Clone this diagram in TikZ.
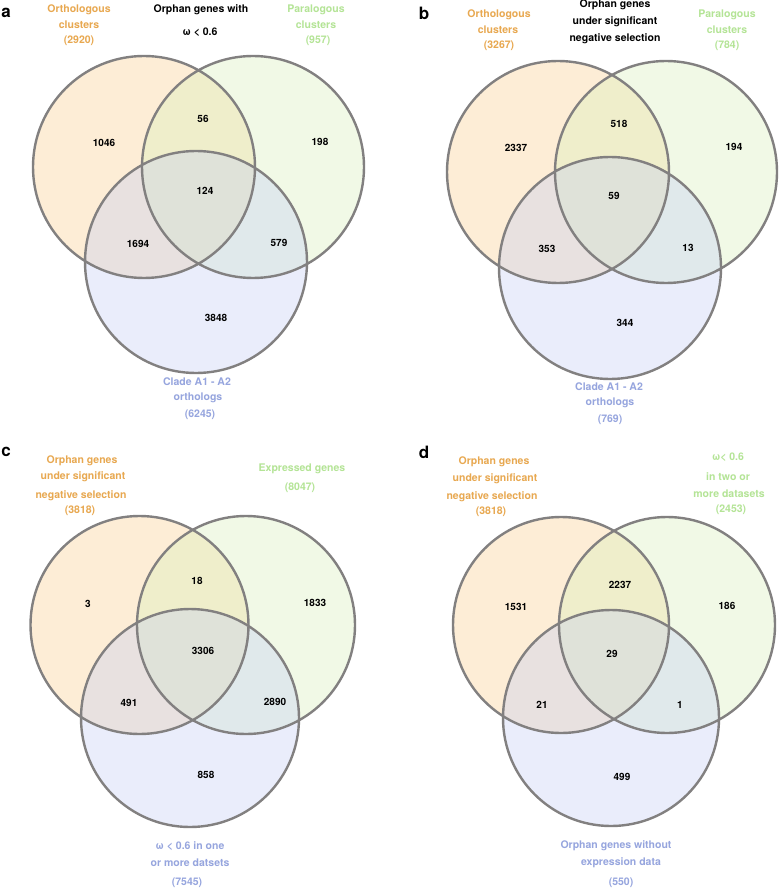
\documentclass[tikz,border=0pt]{standalone}
\usepackage{fontspec}
\setmainfont{TeX Gyre Heros}
\definecolor{orl}{RGB}{232,168,80}
\definecolor{grl}{RGB}{180,228,150}
\definecolor{bll}{RGB}{150,165,222}
\definecolor{orf}{RGB}{252,205,140}
\definecolor{grf}{RGB}{215,240,185}
\definecolor{blf}{RGB}{195,205,245}
\definecolor{edge}{RGB}{130,128,128}
\newcommand{\vennthree}[7]{%
  \fill[orf,fill opacity=0.35] (#1,#2) circle (#7);
  \fill[grf,fill opacity=0.35] (#3,#4) circle (#7);
  \fill[blf,fill opacity=0.35] (#5,#6) circle (#7);
  \draw[edge,line width=2.4pt] (#1,#2) circle (#7) (#3,#4) circle (#7) (#5,#6) circle (#7);}
\tikzset{
  num/.style={font=\bfseries\fontsize{10}{12}\selectfont,text=black,inner sep=0pt},
  lab/.style={font=\bfseries\fontsize{10.5}{12}\selectfont,inner sep=0pt},
  pan/.style={font=\bfseries\fontsize{17}{18}\selectfont,inner sep=0pt}}
\begin{document}
\begin{tikzpicture}[x=1pt,y=-1pt]
\useasboundingbox (0,0) rectangle (778,890);
\fill[white] (0,0) rectangle (778,890);
% panel a
\vennthree{144}{167}{253}{167}{196}{262}{111}
\node[pan] (pa) at (6,13) {a};
\node[lab,text=orl] (a1) at (79,10) {Orthologous};
\node[lab,text=orl] (a2) at (79,25) {clusters};
\node[lab,text=orl] (a3) at (79,41) {(2920)};
\node[lab] (a4) at (201,10) {Orphan genes with};
\node[lab] (a5) at (200,32) {ω < 0.6};
\node[lab,text=grl] (a6) at (316,10) {Paralogous};
\node[lab,text=grl] (a7) at (316,25) {clusters};
\node[lab,text=grl] (a8) at (318,41) {(957)};
\node[lab,text=bll] (a9) at (197,382) {Clade A1 - A2};
\node[lab,text=bll] (a10) at (198,398) {orthologs};
\node[lab,text=bll] (a11) at (200,415) {(6245)};
\node[num] (an1) at (104,143) {1046};
\node[num] (an2) at (203,119) {56};
\node[num] (an3) at (320,142) {198};
\node[num] (an4) at (205,191) {124};
\node[num] (an5) at (138,244) {1694};
\node[num] (an6) at (279,243) {579};
\node[num] (an7) at (216,318) {3848};
% panel b
\vennthree{558}{172}{666}{172}{610}{268}{111}
\node[pan] (pb) at (424,13) {b};
\node[lab,text=orl] (b1) at (499,15) {Orthologous};
\node[lab,text=orl] (b2) at (498,30) {clusters};
\node[lab,text=orl] (b3) at (499,46) {(3267)};
\node[lab] (b4) at (615,5) {Orphan genes};
\node[lab] (b5) at (615,22) {under significant};
\node[lab] (b6) at (615,39) {negative selection};
\node[lab,text=grl] (b7) at (727,15) {Paralogous};
\node[lab,text=grl] (b8) at (727,30) {clusters};
\node[lab,text=grl] (b9) at (727,46) {(784)};
\node[lab,text=bll] (b10) at (609,387) {Clade A1 - A2};
\node[lab,text=bll] (b11) at (610,403) {orthologs};
\node[lab,text=bll] (b12) at (610,420) {(769)};
\node[num] (bn1) at (516,148) {2337};
\node[num] (bn2) at (619,124) {518};
\node[num] (bn3) at (734,147) {194};
\node[num] (bn4) at (614,196) {59};
\node[num] (bn5) at (547,249) {353};
\node[num] (bn6) at (688,248) {13};
\node[num] (bn7) at (625,323) {344};
% panel c
\vennthree{139.5}{625}{246}{625}{190}{718}{109}
\node[pan] (pc) at (6,452) {c};
\node[lab,text=orl] (c1) at (82,461) {Orphan genes};
\node[lab,text=orl] (c2) at (83,477) {under significant};
\node[lab,text=orl] (c3) at (81,496) {negative selection};
\node[lab,text=orl] (c4) at (80,511) {(3818)};
\node[lab,text=grl] (c5) at (302,469) {Expressed genes};
\node[lab,text=grl] (c6) at (300,488) {(8047)};
\node[lab,text=bll] (c7) at (190,846) {ω < 0.6 in one};
\node[lab,text=bll] (c8) at (190,863) {or more datsets};
\node[lab,text=bll] (c9) at (187,883) {(7545)};
\node[num] (cn1) at (88,604) {3};
\node[num] (cn2) at (197,581) {18};
\node[num] (cn3) at (315,603) {1833};
\node[num] (cn4) at (203,651) {3306};
\node[num] (cn5) at (129,703) {491};
\node[num] (cn6) at (275,702) {2890};
\node[num] (cn7) at (206,775) {858};
% panel d
\vennthree{561}{625}{667}{625}{611}{718}{108}
\node[pan] (pd) at (424,452) {d};
\node[lab,text=orl] (d1) at (494,462) {Orphan genes};
\node[lab,text=orl] (d2) at (495,479) {under significant};
\node[lab,text=orl] (d3) at (492,497) {negative selection};
\node[lab,text=orl] (d4) at (491,512) {(3818)};
\node[lab,text=grl] (d5) at (728,457) {ω< 0.6};
\node[lab,text=grl] (d6) at (728,477) {in two or};
\node[lab,text=grl] (d7) at (729,494) {more datasets};
\node[lab,text=grl] (d8) at (731,510) {(2453)};
\node[lab,text=bll] (d9) at (616,846) {Orphan genes without};
\node[lab,text=bll] (d10) at (621,863) {expression data};
\node[lab,text=bll] (d11) at (621,883) {(550)};
\node[num] (dn1) at (516,607) {1531};
\node[num] (dn2) at (620,585) {2237};
\node[num] (dn3) at (727,606) {186};
\node[num] (dn4) at (612,654) {29};
\node[num] (dn5) at (542,705) {21};
\node[num] (dn6) at (680,705) {1};
\node[num] (dn7) at (622,777) {499};
\end{tikzpicture}
\end{document}
